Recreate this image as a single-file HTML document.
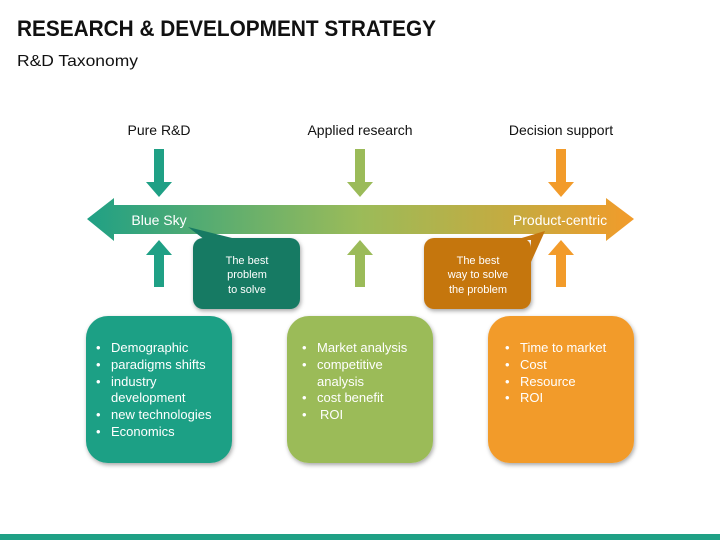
<!DOCTYPE html>
<html><head><meta charset="utf-8"><style>
html,body{margin:0;padding:0;background:#fff}
svg{display:block}
text{font-family:"Liberation Sans",sans-serif}
</style></head><body>
<svg width="720" height="540" viewBox="0 0 720 540" xmlns="http://www.w3.org/2000/svg">
<defs>
<linearGradient id="g" x1="86" x2="634" y1="0" y2="0" gradientUnits="userSpaceOnUse">
<stop offset="0" stop-color="#1fa085"/>
<stop offset="0.5" stop-color="#9bbb59"/>
<stop offset="0.8" stop-color="#c9a93e"/>
<stop offset="1" stop-color="#f29b2a"/>
</linearGradient>
<filter id="sh" x="-10%" y="-10%" width="130%" height="130%"><feDropShadow dx="1" dy="2" stdDeviation="2" flood-opacity="0.35"/></filter>
</defs>
<text x="17" y="36" font-size="22" font-weight="bold" fill="#111" textLength="419" lengthAdjust="spacingAndGlyphs">RESEARCH &amp; DEVELOPMENT STRATEGY</text>
<text x="17" y="66" font-size="16" fill="#111" textLength="121" lengthAdjust="spacingAndGlyphs">R&amp;D Taxonomy</text>

<text x="159" y="135" font-size="14" text-anchor="middle" fill="#111">Pure R&amp;D</text>
<text x="360" y="135" font-size="14" text-anchor="middle" fill="#111">Applied research</text>
<text x="561" y="135" font-size="14" text-anchor="middle" fill="#111">Decision support</text>

<path d="M87 219 L114 198 L114 205 L606 205 L606 198 L634 219 L606 241 L606 234 L114 234 L114 241 Z" fill="url(#g)"/>
<text x="159" y="225" font-size="14" text-anchor="middle" fill="#fff">Blue Sky</text>
<text x="560" y="225" font-size="14" text-anchor="middle" fill="#fff">Product-centric</text>

<g>
<path d="M154 149 h10 v33 h8 l-13 15 l-13 -15 h8 z" fill="#1fa085"/>
<path d="M355 149 h10 v33 h8 l-13 15 l-13 -15 h8 z" fill="#9bbb59"/>
<path d="M556 149 h10 v33 h8 l-13 15 l-13 -15 h8 z" fill="#f29b2a"/>
<path d="M154 287 h10 v-32 h8 l-13 -15 l-13 15 h8 z" fill="#1fa085"/>
<path d="M355 287 h10 v-32 h8 l-13 -15 l-13 15 h8 z" fill="#9bbb59"/>
<path d="M556 287 h10 v-32 h8 l-13 -15 l-13 15 h8 z" fill="#f29b2a"/>
</g>

<g filter="url(#sh)">
<rect x="193" y="238" width="107" height="71" rx="10" fill="#177a63"/>
<rect x="424" y="238" width="107" height="71" rx="10" fill="#c5760f"/>
</g>
<path d="M205 240 L188 227 L240 240 Z" fill="#177a63"/>
<path d="M515 240 L545 231 L531 262 L531 240 Z" fill="#c5760f"/>
<g font-size="11" fill="#fff" text-anchor="middle">
<text x="247" y="264">The best</text><text x="247" y="278">problem</text><text x="247" y="293">to solve</text>
<text x="478" y="264">The best</text><text x="478" y="278">way to solve</text><text x="478" y="293">the problem</text>
</g>

<g filter="url(#sh)">
<rect x="86" y="316" width="146" height="147" rx="22" fill="#1fa085"/>
<rect x="287" y="316" width="146" height="147" rx="22" fill="#9bbb59"/>
<rect x="488" y="316" width="146" height="147" rx="22" fill="#f29b2a"/>
</g>
<g font-size="13" fill="#fff">
<text x="96" y="352">•</text><text x="111" y="352">Demographic</text>
<text x="96" y="369">•</text><text x="111" y="369">paradigms shifts</text>
<text x="96" y="386">•</text><text x="111" y="386">industry</text>
<text x="111" y="402">development</text>
<text x="96" y="419">•</text><text x="111" y="419">new technologies</text>
<text x="96" y="436">•</text><text x="111" y="436">Economics</text>

<text x="302" y="352">•</text><text x="317" y="352">Market analysis</text>
<text x="302" y="369">•</text><text x="317" y="369">competitive</text>
<text x="317" y="386">analysis</text>
<text x="302" y="402">•</text><text x="317" y="402">cost benefit</text>
<text x="302" y="419">•</text><text x="320" y="419">ROI</text>

<text x="505" y="352">•</text><text x="520" y="352">Time to market</text>
<text x="505" y="369">•</text><text x="520" y="369">Cost</text>
<text x="505" y="386">•</text><text x="520" y="386">Resource</text>
<text x="505" y="402">•</text><text x="520" y="402">ROI</text>
</g>

<rect x="0" y="534" width="720" height="6" fill="#1fa085"/>
</svg>
</body></html>
